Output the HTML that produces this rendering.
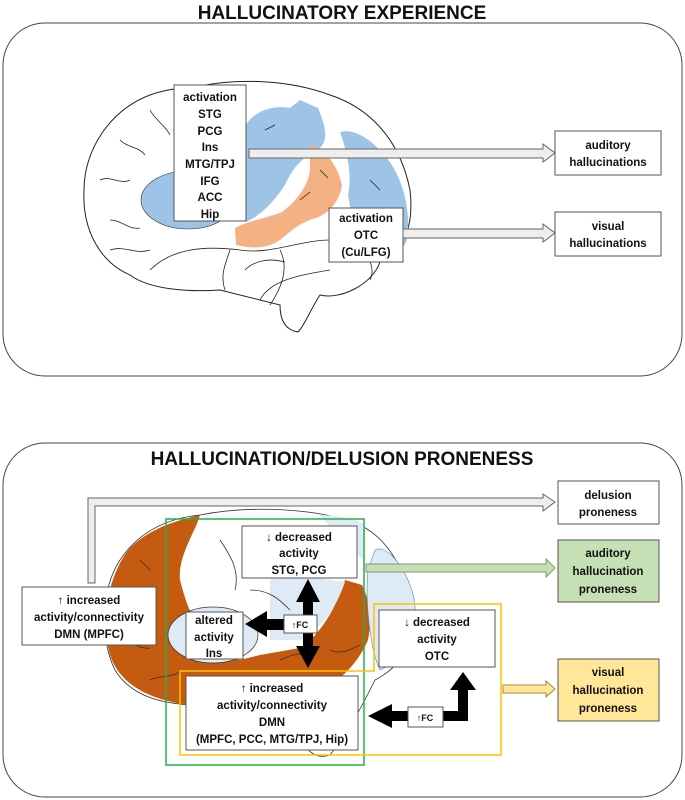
<!DOCTYPE html>
<html><head><meta charset="utf-8"><style>
html,body{margin:0;padding:0;background:#fff}
svg{display:block}
text{font-family:"Liberation Sans",sans-serif;font-weight:bold;fill:#111}
.t{font-size:11.5px;text-anchor:middle}
.h{font-size:19px;text-anchor:middle}
</style></head><body>
<svg width="685" height="800" viewBox="0 0 685 800" xmlns="http://www.w3.org/2000/svg">
<text class="h" x="342" y="19">HALLUCINATORY EXPERIENCE</text>
<rect x="3" y="23" width="679" height="353" rx="42" fill="none" stroke="#444" stroke-width="1"/>

<!-- top brain -->
<path d="M200,86 C240,78 290,80 330,95 C370,108 400,140 410,190 C414,225 405,250 380,262 C372,285 340,300 320,295 C310,310 305,325 298,332 C285,330 280,320 280,305 C260,300 240,295 220,290 C190,292 150,290 130,275 C100,262 82,230 84,190 C84,150 110,110 150,95 C170,88 185,88 200,86 Z" fill="#fff" stroke="#222" stroke-width="1"/>
<path d="M246,125 C255,110 275,105 290,108 L300,100 L318,108 C325,125 330,140 318,150 C300,158 292,170 285,185 C275,200 262,215 246,222 Z" fill="#9dc3e6"/>
<path d="M340,132 C355,128 370,140 380,150 C400,170 412,205 407,240 C400,255 388,262 375,262 L360,255 C355,235 352,215 348,195 C352,175 348,155 340,132 Z" fill="#9dc3e6"/>
<ellipse cx="188" cy="200" rx="47" ry="29" fill="#9dc3e6" stroke="#333" stroke-width="0.6"/>
<path d="M310,145 C322,148 336,160 342,185 C340,200 330,213 316,218 C300,222 290,232 280,240 C265,250 250,248 236,245 L235,228 C250,220 268,218 282,212 C298,200 308,185 310,170 Z" fill="#f4b183"/>
<g fill="none" stroke="#222" stroke-width="0.8">
<path d="M150,270 C170,250 200,245 240,250 C270,255 300,240 330,240 M260,300 C270,280 300,275 330,270 M280,250 c10,20 0,40 -10,55"/>
<path d="M100,180 c10,-5 20,5 30,0 M110,220 c12,0 18,10 30,8 M120,140 c8,8 18,6 25,15 M150,110 c5,10 15,15 20,25 M110,250 c15,-5 25,5 40,0 M245,270 c10,-10 25,-12 40,-8 M230,250 c-5,15 -10,25 -5,40 M360,250 c10,5 15,20 10,30 M300,200 l10,-8 M320,170 l8,8 M370,180 l10,10 M265,130 l10,-5"/>
</g>
<rect x="174" y="85" width="72" height="136" fill="#fff" stroke="#555"/>
<text class="t" x="210" y="101">activation</text>
<text class="t" x="210" y="118">STG</text>
<text class="t" x="210" y="135">PCG</text>
<text class="t" x="210" y="151">Ins</text>
<text class="t" x="210" y="168">MTG/TPJ</text>
<text class="t" x="210" y="185">IFG</text>
<text class="t" x="210" y="201">ACC</text>
<text class="t" x="210" y="218">Hip</text>
<path d="M249,149 H543 V144 L555,153 L543,162 V158 H249 Z" fill="#eee" stroke="#666"/>
<rect x="555" y="131" width="106" height="44" fill="#fff" stroke="#555"/>
<text class="t" x="608" y="149">auditory</text>
<text class="t" x="608" y="166">hallucinations</text>
<rect x="329" y="208" width="74" height="54" fill="#fff" stroke="#555"/>
<text class="t" x="366" y="222">activation</text>
<text class="t" x="366" y="239">OTC</text>
<text class="t" x="366" y="256">(Cu/LFG)</text>
<path d="M403,229 H543 V224 L555,233 L543,242 V238 H403 Z" fill="#eee" stroke="#666"/>
<rect x="555" y="212" width="106" height="44" fill="#fff" stroke="#555"/>
<text class="t" x="608" y="230">visual</text>
<text class="t" x="608" y="247">hallucinations</text>

<text class="h" x="342" y="465">HALLUCINATION/DELUSION PRONENESS</text>
<rect x="3" y="443" width="679" height="354" rx="42" fill="none" stroke="#444" stroke-width="1"/>

<!-- bottom brain -->
<path d="M200,515 C250,505 320,508 360,525 C390,540 410,575 412,620 C413,650 395,670 375,680 C365,700 350,730 330,755 C315,760 305,750 300,735 C270,735 230,730 200,705 C160,705 130,695 115,670 C100,640 100,590 120,560 C140,530 170,518 200,515 Z" fill="#fff" stroke="#333" stroke-width="0.8"/>
<path d="M200,515 C178,520 150,528 130,548 C108,575 100,620 110,655 C120,685 150,700 190,705 L300,700 C330,690 355,670 368,640 C372,620 370,600 362,585 L345,580 C335,610 320,635 300,648 L260,655 L240,660 L210,645 C200,620 195,600 190,580 C185,560 195,530 200,515 Z" fill="#c55a11"/>
<path d="M200,517 C190,540 178,560 180,580 C185,600 192,620 205,640 L200,600 C198,580 200,560 210,540 Z" fill="#fff"/>
<path d="M270,580 C280,575 300,575 330,580 L345,582 C335,610 322,628 300,640 L270,640 Z" fill="#deebf7"/>
<path d="M320,515 C340,515 360,520 365,525 L364,560 L340,540 Z" fill="#deebf7"/>
<path d="M375,550 C385,545 400,560 410,585 C420,610 415,640 400,660 L380,670 C370,650 365,600 368,570 Z" fill="#deebf7" stroke="#5a8aa0" stroke-width="0.6"/>
<ellipse cx="213" cy="635" rx="45" ry="28" fill="#deebf7" stroke="#333" stroke-width="0.7"/>
<g fill="none" stroke="#333" stroke-width="0.8">
<path d="M220,540 c10,15 20,30 15,50 M250,590 c20,0 30,10 40,20 M130,600 l15,5 M140,560 l10,10 M120,640 c10,0 20,10 30,8 M150,680 c10,-5 20,-2 30,-8 M330,650 c10,5 20,0 30,-5 M280,660 c10,-5 20,-8 30,-5"/>
</g>

<path d="M88,583 V498 H543 V494 L555,502 L543,511 V506 H95 V583 Z" fill="#eee" stroke="#666"/>
<rect x="558" y="481" width="101" height="43" fill="#fff" stroke="#555"/>
<text class="t" x="608" y="499">delusion</text>
<text class="t" x="608" y="516">proneness</text>

<path d="M366,564 H546 V559 L555,568 L546,577 V572 H366 Z" fill="#c5e0b4" stroke="#7a9a6a"/>
<rect x="558" y="540" width="101" height="62" fill="#c5e0b4" stroke="#555"/>
<text class="t" x="608" y="557">auditory</text>
<text class="t" x="608" y="575">hallucination</text>
<text class="t" x="608" y="593">proneness</text>

<path d="M503,685 H546 V681 L555,689 L546,697 V693 H503 Z" fill="#ffe699" stroke="#a08a40"/>
<rect x="558" y="659" width="101" height="62" fill="#ffe699" stroke="#555"/>
<text class="t" x="608" y="676">visual</text>
<text class="t" x="608" y="694">hallucination</text>
<text class="t" x="608" y="712">proneness</text>

<rect x="166" y="519" width="198" height="246" fill="none" stroke="#22b14c" stroke-width="1.5"/>
<path d="M180,671 H374 V604 H501 V755 H180 Z" fill="none" stroke="#ffc000" stroke-width="1.5"/>

<rect x="22" y="587" width="134" height="58" fill="#fff" stroke="#555"/>
<text class="t" x="89" y="604">↑ increased</text>
<text class="t" x="89" y="621">activity/connectivity</text>
<text class="t" x="89" y="638">DMN (MPFC)</text>

<rect x="242" y="526" width="115" height="52" fill="#fff" stroke="#555"/>
<text class="t" x="299" y="541">↓ decreased</text>
<text class="t" x="299" y="557">activity</text>
<text class="t" x="299" y="574">STG, PCG</text>

<rect x="186" y="612" width="57" height="47" fill="#fff" stroke="#555"/>
<text class="t" x="214" y="624">altered</text>
<text class="t" x="214" y="641">activity</text>
<text class="t" x="214" y="657">Ins</text>

<!-- black arrows -->
<path d="M308,579 L320,602 L313,602 L313,646 L320,646 L308,668 L296,646 L303,646 L303,602 L296,602 Z" fill="#000"/>
<path d="M245,624 L267,611 L267,619 L290,619 L290,630 L267,630 L267,637 Z" fill="#000"/>
<rect x="284" y="615" width="33" height="18" fill="#fff" stroke="#555"/>
<text x="300" y="628" style="font-size:9px;text-anchor:middle">↑FC</text>

<rect x="379" y="610" width="116" height="57" fill="#fff" stroke="#555"/>
<text class="t" x="437" y="626">↓ decreased</text>
<text class="t" x="437" y="643">activity</text>
<text class="t" x="437" y="660">OTC</text>

<path d="M368,716 L392,704 L392,711 L458,711 L458,690 L450,690 L463,672 L476,690 L468,690 L468,721 L392,721 L392,728 Z" fill="#000"/>
<rect x="408" y="707" width="35" height="20" fill="#fff" stroke="#555"/>
<text x="425" y="721" style="font-size:9px;text-anchor:middle">↑FC</text>

<rect x="186" y="676" width="172" height="74" fill="#fff" stroke="#555"/>
<text class="t" x="272" y="692">↑ increased</text>
<text class="t" x="272" y="709">activity/connectivity</text>
<text class="t" x="272" y="726">DMN</text>
<text class="t" x="272" y="743">(MPFC, PCC, MTG/TPJ, Hip)</text>
</svg>
</body></html>
